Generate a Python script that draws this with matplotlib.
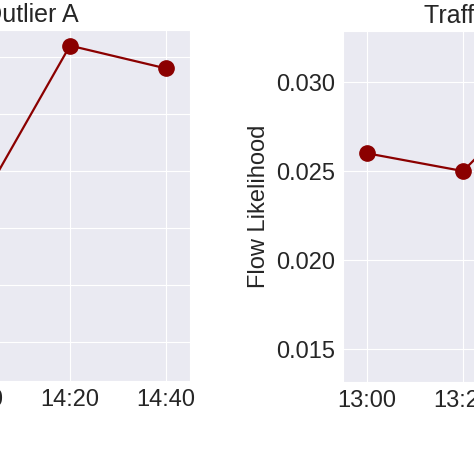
import matplotlib
matplotlib.use("Agg")
import matplotlib.pyplot as plt
import seaborn as sns

sns.set_style("darkgrid")
plt.rcParams["font.family"] = ["Liberation Sans", "DejaVu Sans"]

times = ["13:00", "13:20", "13:40", "14:00", "14:20", "14:40"]
outlier_a = [0.0120, 0.0180, 0.0150, 0.0212, 0.0360, 0.0340]
outlier_b = [0.0260, 0.0250, 0.0304, 0.0310, 0.0140, 0.0200]

left_title = "Traffic Likelihood - Outlier A"
right_title = "Traffic Flow Likelihood - Outlier B"
line_color = "#8B0000"

W = H = 474
fig = plt.figure(figsize=(W / 100, H / 100), dpi=100)


def px_axes(x0, y0, x1, y1):
    # pixel box (top-left origin) -> figure fractions
    return fig.add_axes([x0 / W, (H - y1) / H, (x1 - x0) / W, (y1 - y0) / H])


ax_a = px_axes(-338, 30, 190, 381)
ax_b = px_axes(343, 31, 871, 382)

for ax, vals, title in [(ax_a, outlier_a, left_title), (ax_b, outlier_b, right_title)]:
    x = list(range(len(times)))
    ax.plot(x, vals, color=line_color, marker="o", markersize=11, linewidth=1.6)
    ax.set_xticks(x)
    ax.set_xticklabels(times)
    ax.set_xlim(-0.25, len(times) - 0.75)
    ax.set_title(title, fontsize=18, color="#262626", pad=6)
    ax.tick_params(labelsize=17, colors="#262626", length=0, pad=6)

ax_a.set_ylim(0.00658, 0.03737)
ax_a.set_yticks([0.010, 0.015, 0.020, 0.025, 0.030, 0.035])

ax_b.set_ylim(0.01315, 0.03287)
ax_b.set_yticks([0.015, 0.020, 0.025, 0.030])
ax_b.set_ylabel("Flow Likelihood", fontsize=17, color="#262626")

fig.savefig("out.png", dpi=100)
